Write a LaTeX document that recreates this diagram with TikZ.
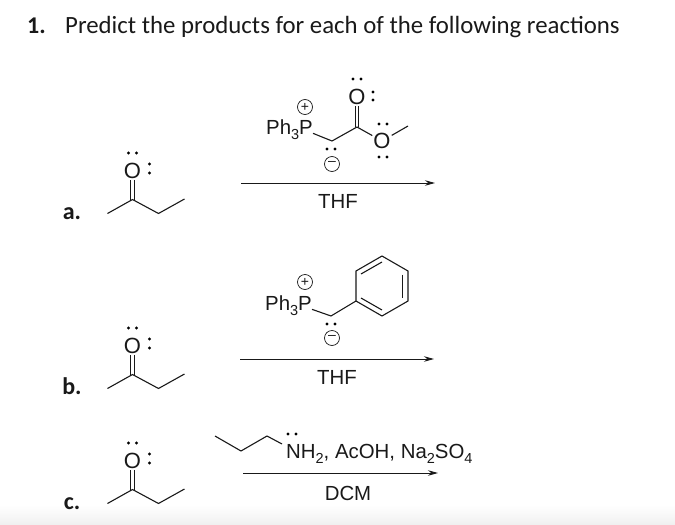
\documentclass[tikz,border=0pt]{standalone}
\usepackage{fontspec}
\setmainfont{Liberation Sans}
\newfontfamily\titlefont{Carlito}
\usetikzlibrary{arrows.meta, positioning}
\newcommand{\lowidx}[1]{\raisebox{-0.26em}{\fontsize{14.5}{14.5}\selectfont #1}}
\newcommand{\lonepair}[2]{\fill (#1) circle (1.7); \fill (#2) circle (1.7);}

\begin{document}
\begin{tikzpicture}[x=1pt,y=-1pt,
		bond/.style={line width=1.1pt,color=black!90},
		dblbond/.style={line width=1pt,double,double distance=2.6pt,color=black!90},
		rxnarrow/.style={line width=1pt,color=black!90,-{Stealth[length=10pt,width=5.5pt]}},
		atom/.style={font=\fontsize{22}{22}\selectfont,inner sep=1pt,text height=15.5pt,text depth=0pt,color=black!90},
		reagent/.style={font=\fontsize{20.4}{20.4}\selectfont,inner sep=0pt,color=black!90},
		charge/.style={draw,circle,line width=0.7pt,minimum size=15pt,inner sep=0pt,font=\fontsize{14}{14}\selectfont,color=black!90},
		qlabel/.style={font=\titlefont\bfseries\fontsize{24}{24}\selectfont,inner sep=0pt,color=black!90}]
	\useasboundingbox (0,0) rectangle (675,525);
	\shade[top color=white,bottom color=black!6] (0,505) rectangle (675,525);

	\node[qlabel,anchor=base west] (Q1) at (27,33) {1.};
	\node[anchor=base west,inner sep=0pt,font=\titlefont\fontsize{24.8}{24.8}\selectfont,color=black!90] (Title) at (65,33) {Predict the products for each of the following reactions};

	% ketones
	\foreach \id/\ty/\lab/\ly in {a/171/a./219,b/346/b./394,c/461/c./509}{
		\pgfmathsetmacro{\cy}{\ty+28.5}
		\pgfmathsetmacro{\dy}{\ty+42.5}
		\pgfmathsetmacro{\ey}{\ty+28}
		\pgfmathsetmacro{\py}{\ty-18}
		\pgfmathsetmacro{\qy}{\ty-7}
		\pgfmathsetmacro{\ry}{\ty+2}
		\node[atom] (O\id) at (132.5,\ty) {O};
		\coordinate (C\id2) at (132.5,\cy);
		\coordinate (C\id1) at (107.5,\dy);
		\coordinate (C\id3) at (158.5,\dy);
		\coordinate (C\id4) at (184.5,\ey);
		\draw[dblbond] (O\id) -- (C\id2);
		\draw[bond] (C\id1) -- (C\id2) -- (C\id3) -- (C\id4);
		\lonepair{128.5,\py}{136.5,\py}
		\lonepair{149.5,\qy}{149.5,\ry}
		\node[qlabel,anchor=base] (L\id) at (72,\ly) {\lab};
	}

	% reagent a
	\node[reagent,anchor=base east] (Pa) at (313,134) {Ph\lowidx{3}P};
	\coordinate (Ca1) at (332,141);
	\coordinate (Ca2) at (357,127);
	\node[atom] (Oa1) at (357,97) {O};
	\node[atom] (Oa2) at (382,141) {O};
	\coordinate (Ca3) at (408,126);
	\node[charge] (PlusA) at (305,107) {+};
	\node[charge] (MinusA) at (332,164) {\raisebox{0.1ex}{–}};
	\draw[dblbond] (Oa1) -- (Ca2);
	\draw[bond] (Pa.east) ++(0,4) -- (Ca1) -- (Ca2) -- (Oa2) -- (Ca3);
	\lonepair{353,79}{361,79}
	\lonepair{373,92}{373,100}
	\lonepair{379,124}{387,124}
	\lonepair{379,157}{387,157}
	\lonepair{327,149}{335,149}
	\coordinate (Aa1) at (241,183);
	\coordinate (Aa2) at (435,183);
	\draw[rxnarrow] (Aa1) -- (Aa2);
	\node[reagent,anchor=base] (Ta) at (338,208) {THF};

	% reagent b
	\node[reagent,anchor=base east] (Pb) at (312,310) {Ph\lowidx{3}P};
	\coordinate (Cb1) at (331,316);
	\coordinate (R1) at (356,301);
	\coordinate (R2) at (356,271);
	\coordinate (R3) at (382,256);
	\coordinate (R4) at (408,271);
	\coordinate (R5) at (408,301);
	\coordinate (R6) at (382,316);
	\node[charge] (PlusB) at (305,282) {+};
	\node[charge] (MinusB) at (332,338) {\raisebox{0.1ex}{–}};
	\draw[bond] (Pb.east) ++(0,4) -- (Cb1) -- (R1);
	\draw[bond] (R1) -- (R2) -- (R3) -- (R4) -- (R5) -- (R6) -- cycle;
	\draw[bond] (361,274) -- (382,262);
	\draw[bond] (402.5,274.5) -- (402.5,297.5);
	\draw[bond] (361,298) -- (382,310);
	\lonepair{327,324}{335,324}
	\coordinate (Ab1) at (240,359);
	\coordinate (Ab2) at (434,359);
	\draw[rxnarrow] (Ab1) -- (Ab2);
	\node[reagent,anchor=base] (Tb) at (337,384) {THF};

	% reagent c
	\coordinate (Cc1) at (215,436);
	\coordinate (Cc2) at (241,451);
	\coordinate (Cc3) at (267,436);
	\coordinate (Cc4) at (282,444);
	\draw[bond] (Cc1) -- (Cc2) -- (Cc3) -- (Cc4);
	\node[reagent,anchor=base west] (Nc) at (286,458) {NH\lowidx{2}, AcOH, Na\lowidx{2}SO\lowidx{4}};
	\lonepair{288,434}{296,434}
	\coordinate (Ac1) at (243,473);
	\coordinate (Ac2) at (438,473);
	\draw[rxnarrow] (Ac1) -- (Ac2);
	\node[reagent,anchor=base] (Tc) at (348,500) {DCM};
\end{tikzpicture}
\end{document}
